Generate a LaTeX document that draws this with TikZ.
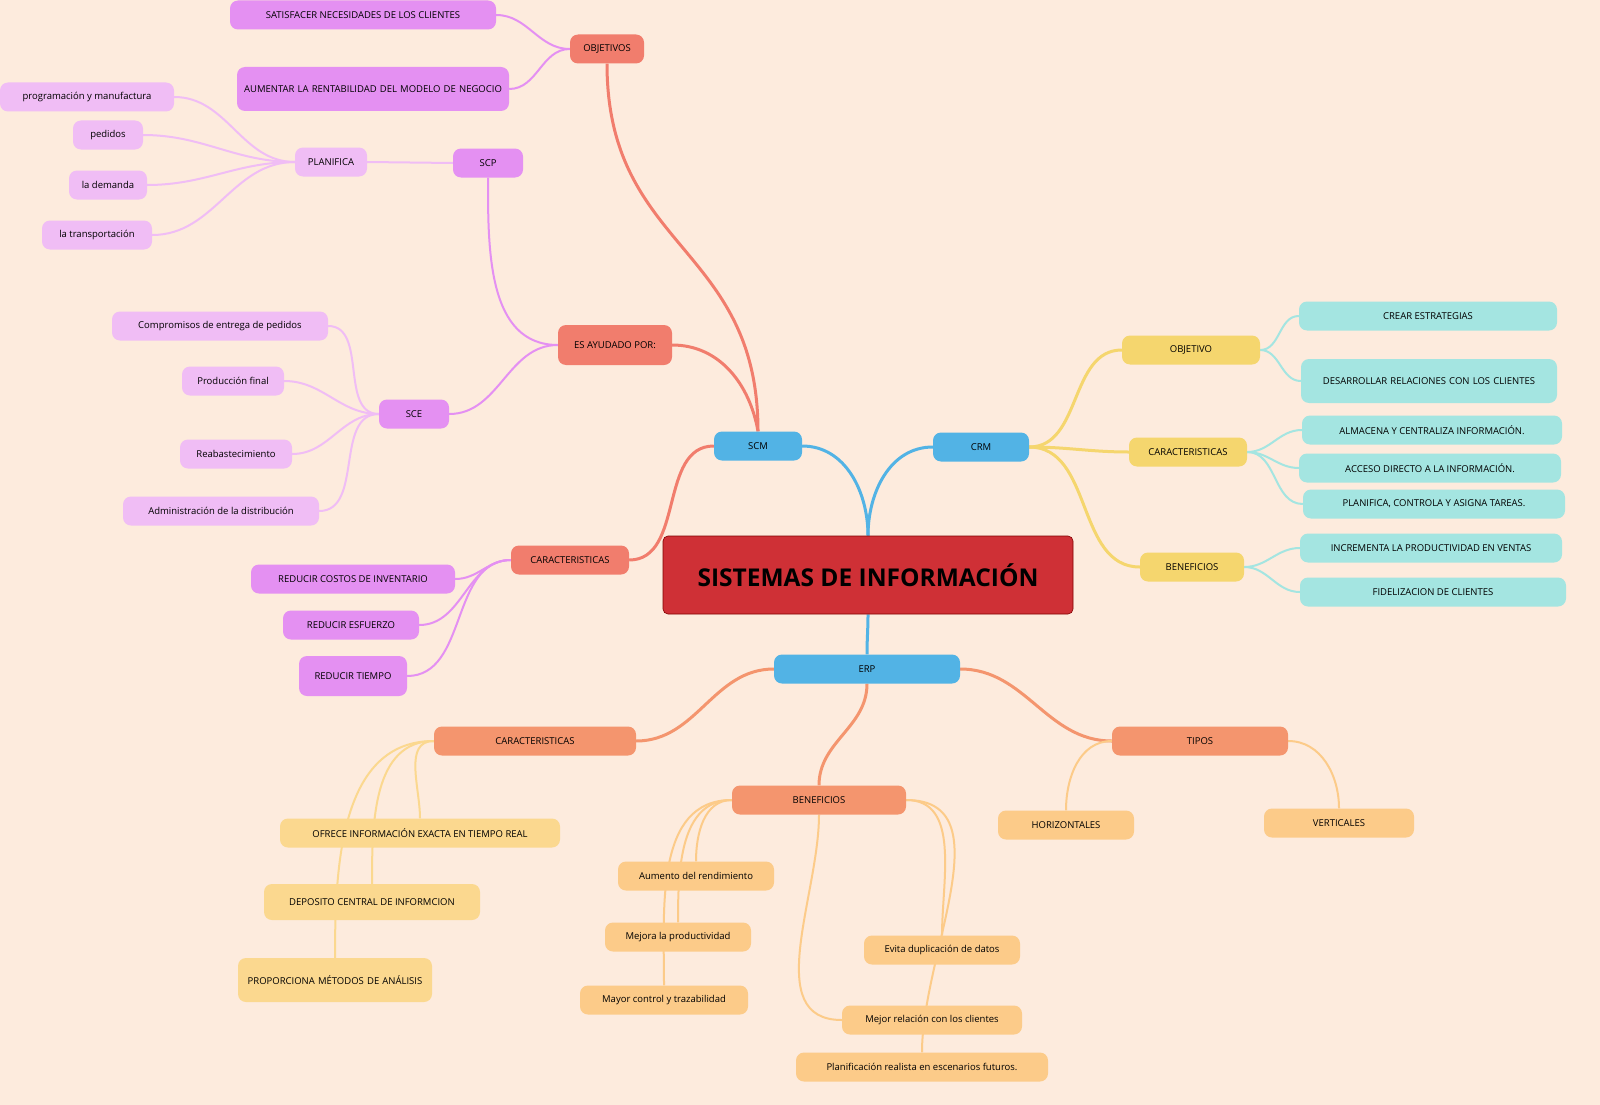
\documentclass[tikz,border=0pt]{standalone}
\usepackage{fontspec}
\setmainfont{Open Sans}
\usetikzlibrary{backgrounds}
\pgfdeclarelayer{bgzero}
\pgfsetlayers{bgzero,background,main}
\definecolor{bg}{HTML}{FDEBDD}
\definecolor{cred}{HTML}{CF3036}
\definecolor{cblue}{HTML}{52B3E5}
\definecolor{csal}{HTML}{F17D6D}
\definecolor{cvio}{HTML}{E490F2}
\definecolor{clvio}{HTML}{F0BDF5}
\definecolor{cyel}{HTML}{F5D66E}
\definecolor{cteal}{HTML}{A4E5E1}
\definecolor{cora}{HTML}{F4956E}
\definecolor{clor}{HTML}{FBD88F}
\definecolor{clor2}{HTML}{FCCB89}
\tikzset{
 bx/.style={rounded corners=8pt,minimum height=29pt,inner sep=2pt,align=center,font=\fontsize{9.5}{12}\selectfont},
 cb/.style={bx,fill=cblue}, cs/.style={bx,fill=csal}, cv/.style={bx,fill=cvio}, cl/.style={bx,fill=clvio},
 cy/.style={bx,fill=cyel}, ct/.style={bx,fill=cteal}, co/.style={bx,fill=cora}, cp/.style={bx,fill=clor}, cq/.style={bx,fill=clor2},
 lk/.style={line width=2pt}, lkb/.style={line width=3pt}
}
\begin{document}
\begin{tikzpicture}[x=1pt,y=-1pt]
\begin{pgfonlayer}{bgzero}
\fill[bg] (0,0) rectangle (1600,1105);
\end{pgfonlayer}
\useasboundingbox (0,0) rectangle (1600,1105);
% nodes
\node[bx,fill=cred,draw=red!50!black,line width=0.6pt,minimum width=410pt,minimum height=78pt,font=\fontsize{24.5}{28}\bfseries\selectfont,rounded corners=5pt] (c) at (868,575) {SISTEMAS DE INFORMACIÓN};
\node[cb,minimum width=88pt] (scm) at (758,446) {SCM};
\node[cb,minimum width=96pt] (crm) at (981,447) {CRM};
\node[cb,minimum width=186pt] (erp) at (867,669) {ERP};
\node[cs,minimum width=74pt] (obj) at (607,49) {OBJETIVOS};
\node[cs,minimum width=114pt,minimum height=40pt] (esa) at (615,345) {ES AYUDADO POR:};
\node[cs,minimum width=118pt] (car1) at (570,560) {CARACTERISTICAS};
\node[cv,minimum width=70pt] (scp) at (488,163) {SCP};
\node[cv,minimum width=70pt] (sce) at (414,414) {SCE};
\node[cv,minimum width=266pt] (sat) at (363,15) {SATISFACER NECESIDADES DE LOS CLIENTES};
\node[cv,minimum width=272pt,minimum height=44pt,text width=262pt] (aum) at (373,89) {AUMENTAR LA RENTABILIDAD DEL MODELO DE NEGOCIO};
\node[cv,minimum width=204pt] (rc) at (353,579) {REDUCIR COSTOS DE INVENTARIO};
\node[cv,minimum width=136pt] (re) at (351,625) {REDUCIR ESFUERZO};
\node[cv,minimum width=108pt,minimum height=40pt] (rt) at (353,676) {REDUCIR TIEMPO};
\node[cl,minimum width=72pt] (pla) at (331,162) {PLANIFICA};
\node[cl,minimum width=174pt] (p1) at (87,97) {programación y manufactura};
\node[cl,minimum width=70pt] (p2) at (108,135) {pedidos};
\node[cl,minimum width=78pt] (p3) at (108,185) {la demanda};
\node[cl,minimum width=110pt] (p4) at (97,235) {la transportación};
\node[cl,minimum width=216pt] (s1) at (220,326) {Compromisos de entrega de pedidos};
\node[cl,minimum width=102pt] (s2) at (233,381) {Producción final};
\node[cl,minimum width=112pt] (s3) at (236,454) {Reabastecimiento};
\node[cl,minimum width=196pt] (s4) at (221,511) {Administración de la distribución};
\node[cy,minimum width=138pt] (ob2) at (1191,350) {OBJETIVO};
\node[cy,minimum width=118pt] (ca2) at (1188,452) {CARACTERISTICAS};
\node[cy,minimum width=104pt] (be2) at (1192,567) {BENEFICIOS};
\node[ct,minimum width=258pt] (t1) at (1428,316) {CREAR ESTRATEGIAS};
\node[ct,minimum width=256pt,minimum height=44pt,text width=240pt] (t2) at (1429,381) {DESARROLLAR RELACIONES CON LOS CLIENTES};
\node[ct,minimum width=260pt] (t3) at (1432,430) {ALMACENA Y CENTRALIZA INFORMACIÓN.};
\node[ct,minimum width=262pt] (t4) at (1430,468) {ACCESO DIRECTO A LA INFORMACIÓN.};
\node[ct,minimum width=262pt] (t5) at (1434,504) {PLANIFICA, CONTROLA Y ASIGNA TAREAS.};
\node[ct,minimum width=262pt] (t6) at (1431,548) {INCREMENTA LA PRODUCTIVIDAD EN VENTAS};
\node[ct,minimum width=266pt] (t7) at (1433,592) {FIDELIZACION DE CLIENTES};
\node[co,minimum width=202pt] (ca3) at (535,741) {CARACTERISTICAS};
\node[co,minimum width=174pt] (be3) at (819,800) {BENEFICIOS};
\node[co,minimum width=176pt] (ti) at (1200,741) {TIPOS};
\node[cp,minimum width=280pt] (e1) at (420,833) {OFRECE INFORMACIÓN EXACTA EN TIEMPO REAL};
\node[cp,minimum width=216pt,minimum height=36pt] (e2) at (372,902) {DEPOSITO CENTRAL DE INFORMCION};
\node[cp,minimum width=194pt,minimum height=44pt,text width=184pt] (e3) at (335,980) {PROPORCIONA MÉTODOS DE ANÁLISIS};
\node[cq,minimum width=156pt] (b1) at (696,876) {Aumento del rendimiento};
\node[cq,minimum width=146pt] (b2) at (678,937) {Mejora la productividad};
\node[cq,minimum width=168pt] (b3) at (664,1000) {Mayor control y trazabilidad};
\node[cq,minimum width=156pt] (b4) at (942,950) {Evita duplicación de datos};
\node[cq,minimum width=180pt] (b5) at (932,1020) {Mejor relación con los clientes};
\node[cq,minimum width=252pt] (b6) at (922,1067) {Planificación realista en escenarios futuros.};
\node[cq,minimum width=136pt] (h) at (1066,825) {HORIZONTALES};
\node[cq,minimum width=150pt] (v) at (1339,823) {VERTICALES};
% connectors
\begin{scope}[on background layer]
\draw[lkb,cblue] (c.north) to[out=90,in=0] (scm.east);
\draw[lkb,cblue] (c.north) to[out=90,in=180] (crm.west);
\draw[lkb,cblue] (c.south) to[out=-90,in=90] (erp.north);
\draw[lkb,csal] (scm.north) to[out=90,in=-90,looseness=1.2] (obj.south);
\draw[lkb,csal] (scm.north) to[out=100,in=0] (esa.east);
\draw[lkb,csal] (scm.west) to[out=180,in=0] (car1.east);
\draw[lk,cvio] (obj.west) to[out=180,in=0] (sat.east);
\draw[lk,cvio] (obj.west) to[out=180,in=0] (aum.east);
\draw[lk,cvio] (esa.west) to[out=180,in=-90] (scp.south);
\draw[lk,cvio] (esa.west) to[out=180,in=0] (sce.east);
\draw[lk,cvio] (car1.west) to[out=180,in=0] (rc.east);
\draw[lk,cvio] (car1.west) to[out=180,in=0] (re.east);
\draw[lk,cvio] (car1.west) to[out=180,in=0] (rt.east);
\draw[lk,clvio] (scp.west) -- (pla.east);
\foreach \n in {p1,p2,p3,p4} \draw[lk,clvio] (pla.west) to[out=180,in=0] (\n.east);
\foreach \n in {s1,s2,s3,s4} \draw[lk,clvio] (sce.west) to[out=180,in=0] (\n.east);
\draw[lkb,cyel] (crm.east) to[out=0,in=180] (ob2.west);
\draw[lkb,cyel] (crm.east) to[out=0,in=180] (ca2.west);
\draw[lkb,cyel] (crm.east) to[out=0,in=180] (be2.west);
\foreach \n in {t1,t2} \draw[lk,cteal] (ob2.east) to[out=0,in=180] (\n.west);
\foreach \n in {t3,t4,t5} \draw[lk,cteal] (ca2.east) to[out=0,in=180] (\n.west);
\foreach \n in {t6,t7} \draw[lk,cteal] (be2.east) to[out=0,in=180] (\n.west);
\draw[lkb,cora] (erp.west) to[out=180,in=0] (ca3.east);
\draw[lkb,cora] (erp.south) to[out=-90,in=90] (be3.north);
\draw[lkb,cora] (erp.east) to[out=0,in=180] (ti.west);
\draw[lk,clor] (ca3.west) to[out=180,in=90] (e1.north);
\draw[lk,clor] (ca3.west) to[out=180,in=90] (e2.north);
\draw[lk,clor] (ca3.west) to[out=180,in=90] (e3.north);
\foreach \n in {b1,b2,b3} \draw[lk,clor2] (be3.west) to[out=180,in=90] (\n.north);
\draw[lk,clor2] (be3.east) to[out=0,in=90] (b4.north);
\draw[lk,clor2] (be3.south) to[out=-90,in=180] (b5.west);
\draw[lk,clor2] (be3.east) to[out=0,in=90] (b6.north);
\draw[lk,clor2] (ti.west) to[out=180,in=90] (h.north);
\draw[lk,clor2] (ti.east) to[out=0,in=90] (v.north);
\end{scope}
\end{tikzpicture}
\end{document}
